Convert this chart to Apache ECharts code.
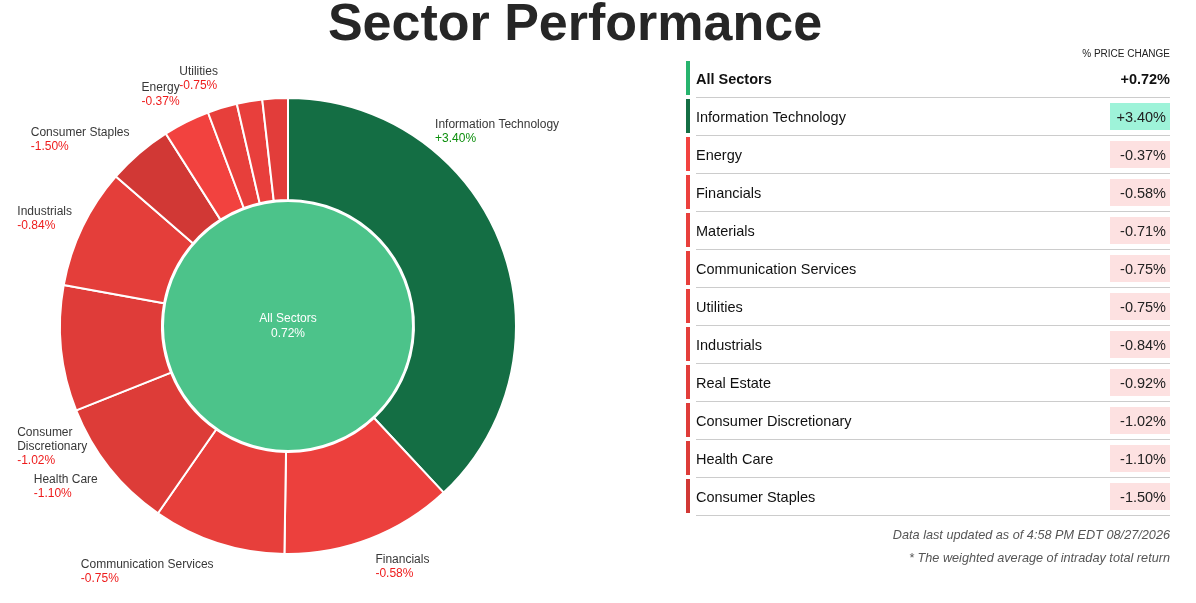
<!DOCTYPE html>
<html>
<head>
<meta charset="utf-8">
<script src="https://cdn.jsdelivr.net/npm/echarts@6.0.0/dist/echarts.min.js"></script>
<style>
html,body{margin:0;padding:0;background:#fff;}
#chart{width:1196px;height:603px;}
</style>
</head>
<body>
<div id="chart"></div>
<script>
// ---- data ----
const titleText = 'Sector Performance';
const allSectorsName = 'All Sectors';
const allSectorsChange = 0.72;
const sectorNames = ['Information Technology', 'Financials', 'Communication Services', 'Health Care',
  'Consumer Discretionary', 'Industrials', 'Consumer Staples', 'Energy', 'Utilities', 'Materials', 'Real Estate'];
const sectorWeights = [38.0, 12.2, 9.4, 9.3, 8.9, 8.5, 4.6, 3.3, 2.1, 1.8, 1.8];
const sectorChanges = [3.40, -0.58, -0.75, -1.10, -1.02, -0.84, -1.50, -0.37, -0.75, -0.71, -0.92];
const tableHeader = '% PRICE CHANGE';
const footNotes = ['Data last updated as of 4:58 PM EDT 08/27/2026', '* The weighted average of intraday total return'];

// ---- styles / layout ----
const FONT = "'Liberation Sans', Arial, Helvetica, sans-serif";
const RED_SCALE = ['#fd4542', '#c23430'];   // change 0 -> -2
const GREEN_SCALE = ['#5bda9d', '#075b34']; // change 0 -> +4
const ALL_BAR_COLOR = '#27b46e';
const BADGE_UP = '#9ef3d9';
const BADGE_DOWN = '#fde1e1';
const PIE_CENTER = [288, 326];
const LABEL_RX = 243, LABEL_RY = 258;        // labels sit on a slightly tall ellipse
const LABEL_NUDGE = {                          // label-only offsets (text placement)
  'Information Technology': [-79, -100],
  'Consumer Discretionary': [42, 95],
  'Consumer Staples': [0, 9],
  'Industrials': [3, 4]
};
const LABEL_WIDTH = { 'Consumer Discretionary': 71 };
const ROW_TEXT_SHIFT = 1.5;

function hexToRgb(h) { return [1, 3, 5].map(i => parseInt(h.substr(i, 2), 16)); }
function lerpColor(a, b, t) {
  const A = hexToRgb(a), B = hexToRgb(b);
  return 'rgb(' + A.map((c, i) => Math.round(c + (B[i] - c) * t)).join(',') + ')';
}
function changeColor(v) {
  if (v < 0) return lerpColor(RED_SCALE[0], RED_SCALE[1], Math.min(1, -v / 2));
  return lerpColor(GREEN_SCALE[0], GREEN_SCALE[1], Math.min(1, v / 4));
}
function fmt(v, sign) { return (sign && v > 0 ? '+' : '') + v.toFixed(2) + '%'; }

// table rows: All Sectors followed by sectors sorted by change
const order = sectorNames.map((n, i) => i).sort((a, b) => sectorChanges[b] - sectorChanges[a]);
const tableNames = [allSectorsName].concat(order.map(i => sectorNames[i]));
const tableChanges = [allSectorsChange].concat(order.map(i => sectorChanges[i]));

const pieData = sectorNames.map((n, i) => {
  const item = {
    name: n, value: sectorWeights[i], change: sectorChanges[i],
    itemStyle: { color: changeColor(sectorChanges[i]) }
  };
  if (LABEL_WIDTH[n]) item.label = { width: LABEL_WIDTH[n], overflow: 'break' };
  return item;
});

const chart = echarts.init(document.getElementById('chart'), null, { renderer: 'canvas' });

const option = {
  animation: false,
  textStyle: { fontFamily: FONT },
  graphic: [
    { type: 'text', x: 575, y: 26, style: { text: titleText, font: 'bold 52px ' + FONT, fill: '#262626', align: 'center', verticalAlign: 'middle' } },
    { type: 'text', x: 1170, y: 54.5, style: { text: tableHeader, font: '10px ' + FONT, fill: '#222', align: 'right', verticalAlign: 'middle' } },
    { type: 'text', x: 1170, y: 535, style: { text: footNotes[0], font: 'italic 12.7px ' + FONT, fill: '#555', align: 'right', verticalAlign: 'middle' } },
    { type: 'text', x: 1170, y: 558, style: { text: footNotes[1], font: 'italic 12.7px ' + FONT, fill: '#555', align: 'right', verticalAlign: 'middle' } }
  ],
  grid: { left: 686, top: 59, width: 484, height: 456 },
  xAxis: { type: 'value', min: 0, max: 1, show: false },
  yAxis: { type: 'category', data: tableNames, inverse: true, show: false },
  series: [
    {
      type: 'pie',
      center: PIE_CENTER,
      radius: [0, 125],
      silent: true,
      itemStyle: { color: changeColor(allSectorsChange), borderColor: '#fff', borderWidth: 2 },
      label: {
        position: 'center',
        formatter: p => p.name + '\n' + fmt(allSectorsChange, false),
        color: '#fff', fontSize: 12, lineHeight: 15, fontFamily: FONT
      },
      labelLine: { show: false },
      data: [{ name: allSectorsName, value: 1 }]
    },
    {
      type: 'pie',
      center: PIE_CENTER,
      radius: [126, 228],
      startAngle: 90,
      clockwise: true,
      silent: true,
      minShowLabelAngle: 7,
      avoidLabelOverlap: false,
      itemStyle: { borderColor: '#fff', borderWidth: 2 },
      label: {
        position: 'outside',
        overflow: 'none',
        distanceToLabelLine: 0,
        formatter: p => '{n|' + p.name + '}{' + (p.data.change >= 0 ? 'up' : 'dn') + '|\n' + fmt(p.data.change, true) + '}',
        rich: {
          n: { fontSize: 12, color: '#383838', lineHeight: 14, align: 'left', fontFamily: FONT },
          up: { fontSize: 12, color: '#0c8f0c', lineHeight: 14, align: 'left', fontFamily: FONT },
          dn: { fontSize: 12, color: '#ee1c1c', lineHeight: 14, align: 'left', fontFamily: FONT }
        }
      },
      labelLine: { show: false, length: LABEL_RX - 228, length2: 0 },
      labelLayout: function (params) {
        const r = params.labelRect;
        const midY = r.y + r.height / 2;
        const out = { dx: 0, dy: (midY - PIE_CENTER[1]) * (LABEL_RY / LABEL_RX - 1) };
        const nudge = LABEL_NUDGE[sectorNames[params.dataIndex]];
        if (nudge) { out.dx += nudge[0]; out.dy += nudge[1]; }
        return out;
      },
      data: pieData
    },
    {
      type: 'custom',
      silent: true,
      coordinateSystem: 'cartesian2d',
      data: tableChanges.map((v, i) => [0, i, v]),
      encode: { x: 0, y: 1 },
      renderItem: function (params, api) {
        const idx = params.dataIndex;
        const v = tableChanges[idx];
        const isAll = idx === 0;
        const p = api.coord([0, idx]);
        const bandH = api.size([0, 1])[1];
        const cs = params.coordSys;
        const top = p[1] - bandH / 2;
        const right = cs.x + cs.width;
        const barColor = isAll ? ALL_BAR_COLOR : changeColor(v);
        const lineY = Math.round(top + bandH) + 0.5;
        const ty = p[1] + ROW_TEXT_SHIFT;
        const children = [
          { type: 'rect', shape: { x: cs.x, y: top + 2, width: 4, height: bandH - 4 }, style: { fill: barColor } },
          { type: 'text', style: { x: cs.x + 10, y: ty, text: tableNames[idx], font: (isAll ? 'bold ' : '') + '14.5px ' + FONT, fill: '#111', align: 'left', verticalAlign: 'middle' } },
          { type: 'line', shape: { x1: cs.x + 10, y1: lineY, x2: right, y2: lineY }, style: { stroke: '#cccccc', lineWidth: 1 } }
        ];
        if (!isAll) {
          children.push({ type: 'rect', shape: { x: right - 60, y: p[1] - 13, width: 60, height: 27 }, style: { fill: v > 0 ? BADGE_UP : BADGE_DOWN } });
        }
        children.push({ type: 'text', style: { x: isAll ? right : right - 4, y: ty, text: fmt(v, true), font: (isAll ? 'bold ' : '') + '14.5px ' + FONT, fill: isAll ? '#111' : '#222', align: 'right', verticalAlign: 'middle' } });
        return { type: 'group', children: children };
      }
    }
  ]
};
chart.setOption(option);
</script>
</body>
</html>
